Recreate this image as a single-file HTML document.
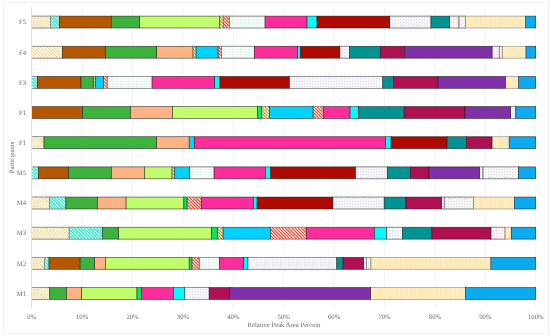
<!DOCTYPE html>
<html><head><meta charset="utf-8"><title>Relative Peak Area Percent</title>
<style>
html,body{margin:0;padding:0;background:#fff;}
body{width:550px;height:336px;overflow:hidden;font-family:"Liberation Serif","DejaVu Serif",serif;}
svg{display:block;}
text{text-rendering:geometricPrecision;font-family:"Liberation Serif","DejaVu Serif",serif;font-size:6.7px;fill:#6a6a6a;}
</style></head><body>
<svg width="550" height="336" viewBox="0 0 550 336">
<defs>
<pattern id="pYS" width="2.5" height="4" patternUnits="userSpaceOnUse"><rect width="2.5" height="4" fill="#FFEEC4"/><rect width="0.8" height="4" fill="#FFE3A8"/></pattern>
</defs>
<rect x="3.5" y="2.5" width="545" height="331" fill="#fff" stroke="#F0F0F0" stroke-width="1"/>

<line x1="31.70" y1="7" x2="31.70" y2="308" stroke="#F3F3F3" stroke-width="1"/>
<line x1="82.11" y1="7" x2="82.11" y2="308" stroke="#F3F3F3" stroke-width="1"/>
<line x1="132.52" y1="7" x2="132.52" y2="308" stroke="#F3F3F3" stroke-width="1"/>
<line x1="182.93" y1="7" x2="182.93" y2="308" stroke="#F3F3F3" stroke-width="1"/>
<line x1="233.34" y1="7" x2="233.34" y2="308" stroke="#F3F3F3" stroke-width="1"/>
<line x1="283.75" y1="7" x2="283.75" y2="308" stroke="#F3F3F3" stroke-width="1"/>
<line x1="334.16" y1="7" x2="334.16" y2="308" stroke="#F3F3F3" stroke-width="1"/>
<line x1="384.57" y1="7" x2="384.57" y2="308" stroke="#F3F3F3" stroke-width="1"/>
<line x1="434.98" y1="7" x2="434.98" y2="308" stroke="#F3F3F3" stroke-width="1"/>
<line x1="485.39" y1="7" x2="485.39" y2="308" stroke="#F3F3F3" stroke-width="1"/>
<line x1="535.80" y1="7" x2="535.80" y2="308" stroke="#F3F3F3" stroke-width="1"/>
<g stroke="#777" stroke-opacity="0.75" stroke-width="0.7">
<rect x="31.4" y="16.10" width="19.3" height="11.9" fill="#fff"/>
<svg x="31.4" y="16.10" width="19.3" height="11.9"><path d="M-13.92 0l11.9 11.9M-10.72 0l11.9 11.9M-7.52 0l11.9 11.9M-4.32 0l11.9 11.9M-1.12 0l11.9 11.9M2.08 0l11.9 11.9M5.28 0l11.9 11.9M8.48 0l11.9 11.9M11.68 0l11.9 11.9M14.88 0l11.9 11.9M18.08 0l11.9 11.9" stroke="#FFC850" stroke-width="0.95" stroke-opacity="1" fill="none"/></svg>
<rect x="31.4" y="16.10" width="19.3" height="11.9" fill="none"/>
<rect x="50.7" y="16.10" width="8.7" height="11.9" fill="#fff"/>
<svg x="50.7" y="16.10" width="8.7" height="11.9"><path d="M-14.01 0l11.9 11.9M-10.81 0l11.9 11.9M-7.61 0l11.9 11.9M-4.41 0l11.9 11.9M-1.21 0l11.9 11.9M1.99 0l11.9 11.9M5.19 0l11.9 11.9M8.39 0l11.9 11.9" stroke="#10EEC8" stroke-width="1.15" stroke-opacity="1" fill="none"/></svg>
<rect x="50.7" y="16.10" width="8.7" height="11.9" fill="none"/>
<rect x="219.4" y="16.10" width="4.0" height="11.9" fill="#fff"/>
<svg x="219.4" y="16.10" width="4.0" height="11.9"><path d="M-13.52 0l11.9 11.9M-10.32 0l11.9 11.9M-7.12 0l11.9 11.9M-3.92 0l11.9 11.9M-0.72 0l11.9 11.9M2.48 0l11.9 11.9" stroke="#A89814" stroke-width="1.1" stroke-opacity="1" fill="none"/></svg>
<rect x="219.4" y="16.10" width="4.0" height="11.9" fill="none"/>
<rect x="223.4" y="16.10" width="6.2" height="11.9" fill="#fff"/>
<svg x="223.4" y="16.10" width="6.2" height="11.9"><path d="M-13.92 0l11.9 11.9M-10.72 0l11.9 11.9M-7.52 0l11.9 11.9M-4.32 0l11.9 11.9M-1.12 0l11.9 11.9M2.08 0l11.9 11.9M5.28 0l11.9 11.9" stroke="#FF3010" stroke-width="1.1" stroke-opacity="1" fill="none"/></svg>
<rect x="223.4" y="16.10" width="6.2" height="11.9" fill="none"/>
<rect x="229.6" y="16.10" width="35.5" height="11.9" fill="#fff"/>
<svg x="229.6" y="16.10" width="35.5" height="11.9" viewBox="229.6 16.10 35.5 11.9"><path d="M224.00 16.00H266.1M225.60 17.60H266.1M224.00 19.20H266.1M225.60 20.80H266.1M224.00 22.40H266.1M225.60 24.00H266.1M224.00 25.60H266.1M225.60 27.20H266.1" stroke="#96E6C2" stroke-width="0.85" stroke-dasharray="0.85 2.35" stroke-opacity="1" fill="none"/></svg>
<rect x="229.6" y="16.10" width="35.5" height="11.9" fill="none"/>
<rect x="389.7" y="16.10" width="41.3" height="11.9" fill="#fff"/>
<svg x="389.7" y="16.10" width="41.3" height="11.9" viewBox="389.7 16.10 41.3 11.9"><path d="M384.00 16.00H432.0M385.60 17.60H432.0M384.00 19.20H432.0M385.60 20.80H432.0M384.00 22.40H432.0M385.60 24.00H432.0M384.00 25.60H432.0M385.60 27.20H432.0" stroke="#ACACEC" stroke-width="0.85" stroke-dasharray="0.85 2.35" stroke-opacity="1" fill="none"/></svg>
<rect x="389.7" y="16.10" width="41.3" height="11.9" fill="none"/>
<rect x="449.6" y="16.10" width="9.4" height="11.9" fill="#fff"/>
<svg x="449.6" y="16.10" width="9.4" height="11.9" viewBox="449.6 16.10 9.4 11.9"><path d="M444.80 16.00H460.0M446.40 17.60H460.0M444.80 19.20H460.0M446.40 20.80H460.0M444.80 22.40H460.0M446.40 24.00H460.0M444.80 25.60H460.0M446.40 27.20H460.0" stroke="#F296A8" stroke-width="0.85" stroke-dasharray="0.85 2.35" stroke-opacity="1" fill="none"/></svg>
<rect x="449.6" y="16.10" width="9.4" height="11.9" fill="none"/>
<rect x="459.0" y="16.10" width="6.5" height="11.9" fill="#fff"/>
<svg x="459.0" y="16.10" width="6.5" height="11.9" viewBox="459.0 16.10 6.5 11.9"><path d="M454.40 16.00H466.5M456.00 17.60H466.5M454.40 19.20H466.5M456.00 20.80H466.5M454.40 22.40H466.5M456.00 24.00H466.5M454.40 25.60H466.5M456.00 27.20H466.5" stroke="#ABABAB" stroke-width="0.85" stroke-dasharray="0.85 2.35" stroke-opacity="1" fill="none"/></svg>
<rect x="459.0" y="16.10" width="6.5" height="11.9" fill="none"/>
<rect x="465.5" y="16.10" width="60.0" height="11.9" fill="url(#pYS)"/>
</g>
<g stroke="#181818" stroke-opacity="0.85" stroke-width="0.6">
<rect x="59.4" y="16.10" width="51.9" height="11.9" fill="#B45700"/>
<rect x="111.3" y="16.10" width="28.4" height="11.9" fill="#3DB23D"/>
<rect x="139.7" y="16.10" width="79.7" height="11.9" fill="#C0FC6B"/>
<rect x="265.1" y="16.10" width="41.9" height="11.9" fill="#FF2D9B"/>
<rect x="307.0" y="16.10" width="10.0" height="11.9" fill="#00FCFF"/>
<rect x="317.0" y="16.10" width="72.7" height="11.9" fill="#B00A00"/>
<rect x="431.0" y="16.10" width="18.6" height="11.9" fill="#009393"/>
<rect x="525.5" y="16.10" width="10.2" height="11.9" fill="#0AABF0"/>
</g>
<rect x="29" y="15.10" width="2.9" height="13.9" fill="#fff"/>
<text x="26" y="24.35" text-anchor="end">F5</text>
<g stroke="#777" stroke-opacity="0.75" stroke-width="0.7">
<rect x="31.4" y="46.26" width="31.1" height="11.9" fill="#fff"/>
<svg x="31.4" y="46.26" width="31.1" height="11.9"><path d="M-13.92 0l11.9 11.9M-10.72 0l11.9 11.9M-7.52 0l11.9 11.9M-4.32 0l11.9 11.9M-1.12 0l11.9 11.9M2.08 0l11.9 11.9M5.28 0l11.9 11.9M8.48 0l11.9 11.9M11.68 0l11.9 11.9M14.88 0l11.9 11.9M18.08 0l11.9 11.9M21.28 0l11.9 11.9M24.48 0l11.9 11.9M27.68 0l11.9 11.9M30.88 0l11.9 11.9" stroke="#FFC850" stroke-width="0.95" stroke-opacity="1" fill="none"/></svg>
<rect x="31.4" y="46.26" width="31.1" height="11.9" fill="none"/>
<rect x="192.9" y="46.26" width="3.2" height="11.9" fill="#fff"/>
<svg x="192.9" y="46.26" width="3.2" height="11.9"><path d="M-12.07 0l11.9 11.9M-8.87 0l11.9 11.9M-5.67 0l11.9 11.9M-2.47 0l11.9 11.9M0.73 0l11.9 11.9" stroke="#A89814" stroke-width="1.1" stroke-opacity="1" fill="none"/></svg>
<rect x="192.9" y="46.26" width="3.2" height="11.9" fill="none"/>
<rect x="218.0" y="46.26" width="3.5" height="11.9" fill="#fff"/>
<svg x="218.0" y="46.26" width="3.5" height="11.9"><path d="M-12.90 0l11.9 11.9M-9.70 0l11.9 11.9M-6.50 0l11.9 11.9M-3.30 0l11.9 11.9M-0.10 0l11.9 11.9M3.10 0l11.9 11.9" stroke="#FF3010" stroke-width="1.1" stroke-opacity="1" fill="none"/></svg>
<rect x="218.0" y="46.26" width="3.5" height="11.9" fill="none"/>
<rect x="221.5" y="46.26" width="32.8" height="11.9" fill="#fff"/>
<svg x="221.5" y="46.26" width="32.8" height="11.9" viewBox="221.5 46.26 32.8 11.9"><path d="M219.20 46.40H255.3M217.60 48.00H255.3M219.20 49.60H255.3M217.60 51.20H255.3M219.20 52.80H255.3M217.60 54.40H255.3M219.20 56.00H255.3M217.60 57.60H255.3" stroke="#96E6C2" stroke-width="0.85" stroke-dasharray="0.85 2.35" stroke-opacity="1" fill="none"/></svg>
<rect x="221.5" y="46.26" width="32.8" height="11.9" fill="none"/>
<rect x="339.8" y="46.26" width="9.7" height="11.9" fill="#fff"/>
<svg x="339.8" y="46.26" width="9.7" height="11.9" viewBox="339.8 46.26 9.7 11.9"><path d="M337.60 46.40H350.5M336.00 48.00H350.5M337.60 49.60H350.5M336.00 51.20H350.5M337.60 52.80H350.5M336.00 54.40H350.5M337.60 56.00H350.5M336.00 57.60H350.5" stroke="#ACACEC" stroke-width="0.85" stroke-dasharray="0.85 2.35" stroke-opacity="1" fill="none"/></svg>
<rect x="339.8" y="46.26" width="9.7" height="11.9" fill="none"/>
<rect x="492.0" y="46.26" width="7.3" height="11.9" fill="#fff"/>
<svg x="492.0" y="46.26" width="7.3" height="11.9" viewBox="492.0 46.26 7.3 11.9"><path d="M488.00 46.40H500.3M486.40 48.00H500.3M488.00 49.60H500.3M486.40 51.20H500.3M488.00 52.80H500.3M486.40 54.40H500.3M488.00 56.00H500.3M486.40 57.60H500.3" stroke="#F296A8" stroke-width="0.85" stroke-dasharray="0.85 2.35" stroke-opacity="1" fill="none"/></svg>
<rect x="492.0" y="46.26" width="7.3" height="11.9" fill="none"/>
<rect x="499.3" y="46.26" width="3.0" height="11.9" fill="#fff"/>
<svg x="499.3" y="46.26" width="3.0" height="11.9" viewBox="499.3 46.26 3.0 11.9"><path d="M497.60 46.40H503.3M496.00 48.00H503.3M497.60 49.60H503.3M496.00 51.20H503.3M497.60 52.80H503.3M496.00 54.40H503.3M497.60 56.00H503.3M496.00 57.60H503.3" stroke="#ABABAB" stroke-width="0.85" stroke-dasharray="0.85 2.35" stroke-opacity="1" fill="none"/></svg>
<rect x="499.3" y="46.26" width="3.0" height="11.9" fill="none"/>
<rect x="502.3" y="46.26" width="23.7" height="11.9" fill="url(#pYS)"/>
</g>
<g stroke="#181818" stroke-opacity="0.85" stroke-width="0.6">
<rect x="62.5" y="46.26" width="43.2" height="11.9" fill="#B45700"/>
<rect x="105.7" y="46.26" width="51.0" height="11.9" fill="#3DB23D"/>
<rect x="156.7" y="46.26" width="36.2" height="11.9" fill="#FDB384"/>
<rect x="196.1" y="46.26" width="21.9" height="11.9" fill="#00D2FF"/>
<rect x="254.3" y="46.26" width="43.3" height="11.9" fill="#FF2D9B"/>
<rect x="297.6" y="46.26" width="3.1" height="11.9" fill="#00FCFF"/>
<rect x="300.7" y="46.26" width="39.1" height="11.9" fill="#B00A00"/>
<rect x="349.5" y="46.26" width="30.8" height="11.9" fill="#009393"/>
<rect x="380.3" y="46.26" width="24.2" height="11.9" fill="#B01052"/>
<rect x="404.5" y="46.26" width="87.5" height="11.9" fill="#8030A8"/>
<rect x="526.0" y="46.26" width="9.7" height="11.9" fill="#0AABF0"/>
</g>
<rect x="29" y="45.26" width="2.9" height="13.9" fill="#fff"/>
<text x="26" y="54.51" text-anchor="end">F4</text>
<g stroke="#777" stroke-opacity="0.75" stroke-width="0.7">
<rect x="31.4" y="76.42" width="6.0" height="11.9" fill="#fff"/>
<svg x="31.4" y="76.42" width="6.0" height="11.9"><path d="M-13.92 0l11.9 11.9M-10.72 0l11.9 11.9M-7.52 0l11.9 11.9M-4.32 0l11.9 11.9M-1.12 0l11.9 11.9M2.08 0l11.9 11.9M5.28 0l11.9 11.9" stroke="#10EEC8" stroke-width="1.15" stroke-opacity="1" fill="none"/></svg>
<rect x="31.4" y="76.42" width="6.0" height="11.9" fill="none"/>
<rect x="93.2" y="76.42" width="2.1" height="11.9" fill="#fff"/>
<svg x="93.2" y="76.42" width="2.1" height="11.9"><path d="M-13.86 0l11.9 11.9M-10.66 0l11.9 11.9M-7.46 0l11.9 11.9M-4.26 0l11.9 11.9M-1.06 0l11.9 11.9" stroke="#A89814" stroke-width="1.1" stroke-opacity="1" fill="none"/></svg>
<rect x="93.2" y="76.42" width="2.1" height="11.9" fill="none"/>
<rect x="103.3" y="76.42" width="4.3" height="11.9" fill="#fff"/>
<svg x="103.3" y="76.42" width="4.3" height="11.9"><path d="M-13.99 0l11.9 11.9M-10.79 0l11.9 11.9M-7.59 0l11.9 11.9M-4.39 0l11.9 11.9M-1.19 0l11.9 11.9M2.01 0l11.9 11.9" stroke="#FF3010" stroke-width="1.1" stroke-opacity="1" fill="none"/></svg>
<rect x="103.3" y="76.42" width="4.3" height="11.9" fill="none"/>
<rect x="107.6" y="76.42" width="44.5" height="11.9" fill="#fff"/>
<svg x="107.6" y="76.42" width="44.5" height="11.9" viewBox="107.6 76.42 44.5 11.9"><path d="M102.40 76.80H153.1M104.00 78.40H153.1M102.40 80.00H153.1M104.00 81.60H153.1M102.40 83.20H153.1M104.00 84.80H153.1M102.40 86.40H153.1M104.00 88.00H153.1" stroke="#96E6C2" stroke-width="0.85" stroke-dasharray="0.85 2.35" stroke-opacity="1" fill="none"/></svg>
<rect x="107.6" y="76.42" width="44.5" height="11.9" fill="none"/>
<rect x="289.2" y="76.42" width="93.6" height="11.9" fill="#fff"/>
<svg x="289.2" y="76.42" width="93.6" height="11.9" viewBox="289.2 76.42 93.6 11.9"><path d="M284.80 76.80H383.8M286.40 78.40H383.8M284.80 80.00H383.8M286.40 81.60H383.8M284.80 83.20H383.8M286.40 84.80H383.8M284.80 86.40H383.8M286.40 88.00H383.8" stroke="#ACACEC" stroke-width="0.85" stroke-dasharray="0.85 2.35" stroke-opacity="1" fill="none"/></svg>
<rect x="289.2" y="76.42" width="93.6" height="11.9" fill="none"/>
<rect x="505.4" y="76.42" width="13.2" height="11.9" fill="url(#pYS)"/>
</g>
<g stroke="#181818" stroke-opacity="0.85" stroke-width="0.6">
<rect x="37.4" y="76.42" width="43.6" height="11.9" fill="#B45700"/>
<rect x="81.0" y="76.42" width="12.2" height="11.9" fill="#3DB23D"/>
<rect x="95.3" y="76.42" width="8.0" height="11.9" fill="#00D2FF"/>
<rect x="152.1" y="76.42" width="62.6" height="11.9" fill="#FF2D9B"/>
<rect x="214.7" y="76.42" width="5.3" height="11.9" fill="#00FCFF"/>
<rect x="220.0" y="76.42" width="69.2" height="11.9" fill="#B00A00"/>
<rect x="382.8" y="76.42" width="10.7" height="11.9" fill="#009393"/>
<rect x="393.5" y="76.42" width="44.6" height="11.9" fill="#B01052"/>
<rect x="438.1" y="76.42" width="67.3" height="11.9" fill="#8030A8"/>
<rect x="518.6" y="76.42" width="17.1" height="11.9" fill="#0AABF0"/>
</g>
<rect x="29" y="75.42" width="2.9" height="13.9" fill="#fff"/>
<text x="26" y="84.67" text-anchor="end">F3</text>
<g stroke="#777" stroke-opacity="0.75" stroke-width="0.7">
<rect x="261.4" y="106.58" width="8.0" height="11.9" fill="#fff"/>
<svg x="261.4" y="106.58" width="8.0" height="11.9"><path d="M-12.92 0l11.9 11.9M-9.72 0l11.9 11.9M-6.52 0l11.9 11.9M-3.32 0l11.9 11.9M-0.12 0l11.9 11.9M3.08 0l11.9 11.9M6.28 0l11.9 11.9" stroke="#A89814" stroke-width="1.1" stroke-opacity="1" fill="none"/></svg>
<rect x="261.4" y="106.58" width="8.0" height="11.9" fill="none"/>
<rect x="313.0" y="106.58" width="10.5" height="11.9" fill="#fff"/>
<svg x="313.0" y="106.58" width="10.5" height="11.9"><path d="M-12.00 0l11.9 11.9M-8.80 0l11.9 11.9M-5.60 0l11.9 11.9M-2.40 0l11.9 11.9M0.80 0l11.9 11.9M4.00 0l11.9 11.9M7.20 0l11.9 11.9M10.40 0l11.9 11.9" stroke="#FF3010" stroke-width="1.1" stroke-opacity="1" fill="none"/></svg>
<rect x="313.0" y="106.58" width="10.5" height="11.9" fill="none"/>
<rect x="510.6" y="106.58" width="5.2" height="11.9" fill="#fff"/>
<svg x="510.6" y="106.58" width="5.2" height="11.9" viewBox="510.6 106.58 5.2 11.9"><path d="M507.20 107.20H516.8M505.60 108.80H516.8M507.20 110.40H516.8M505.60 112.00H516.8M507.20 113.60H516.8M505.60 115.20H516.8M507.20 116.80H516.8M505.60 118.40H516.8" stroke="#ABABAB" stroke-width="0.85" stroke-dasharray="0.85 2.35" stroke-opacity="1" fill="none"/></svg>
<rect x="510.6" y="106.58" width="5.2" height="11.9" fill="none"/>
</g>
<g stroke="#181818" stroke-opacity="0.85" stroke-width="0.6">
<rect x="31.4" y="106.58" width="51.1" height="11.9" fill="#B45700"/>
<rect x="82.5" y="106.58" width="48.0" height="11.9" fill="#3DB23D"/>
<rect x="130.5" y="106.58" width="42.0" height="11.9" fill="#FDB384"/>
<rect x="172.5" y="106.58" width="84.9" height="11.9" fill="#C0FC6B"/>
<rect x="257.4" y="106.58" width="4.0" height="11.9" fill="#08E664"/>
<rect x="269.4" y="106.58" width="43.6" height="11.9" fill="#00D2FF"/>
<rect x="323.5" y="106.58" width="26.6" height="11.9" fill="#FF2D9B"/>
<rect x="350.1" y="106.58" width="8.3" height="11.9" fill="#00FCFF"/>
<rect x="358.4" y="106.58" width="45.8" height="11.9" fill="#009393"/>
<rect x="404.2" y="106.58" width="60.8" height="11.9" fill="#B01052"/>
<rect x="465.0" y="106.58" width="45.6" height="11.9" fill="#8030A8"/>
<rect x="515.8" y="106.58" width="19.9" height="11.9" fill="#0AABF0"/>
</g>
<rect x="29" y="105.58" width="2.9" height="13.9" fill="#fff"/>
<text x="26" y="114.83" text-anchor="end">F1</text>
<g stroke="#777" stroke-opacity="0.75" stroke-width="0.7">
<rect x="31.4" y="136.74" width="12.6" height="11.9" fill="#fff"/>
<svg x="31.4" y="136.74" width="12.6" height="11.9"><path d="M-13.92 0l11.9 11.9M-10.72 0l11.9 11.9M-7.52 0l11.9 11.9M-4.32 0l11.9 11.9M-1.12 0l11.9 11.9M2.08 0l11.9 11.9M5.28 0l11.9 11.9M8.48 0l11.9 11.9M11.68 0l11.9 11.9" stroke="#FFC850" stroke-width="0.95" stroke-opacity="1" fill="none"/></svg>
<rect x="31.4" y="136.74" width="12.6" height="11.9" fill="none"/>
<rect x="492.0" y="136.74" width="17.2" height="11.9" fill="url(#pYS)"/>
</g>
<g stroke="#181818" stroke-opacity="0.85" stroke-width="0.6">
<rect x="44.0" y="136.74" width="112.7" height="11.9" fill="#3DB23D"/>
<rect x="156.7" y="136.74" width="32.5" height="11.9" fill="#FDB384"/>
<rect x="189.2" y="136.74" width="5.1" height="11.9" fill="#00D2FF"/>
<rect x="194.3" y="136.74" width="191.3" height="11.9" fill="#FF2D9B"/>
<rect x="385.6" y="136.74" width="5.5" height="11.9" fill="#00FCFF"/>
<rect x="391.1" y="136.74" width="56.0" height="11.9" fill="#B00A00"/>
<rect x="447.1" y="136.74" width="19.3" height="11.9" fill="#009393"/>
<rect x="466.4" y="136.74" width="25.6" height="11.9" fill="#B01052"/>
<rect x="509.2" y="136.74" width="26.5" height="11.9" fill="#0AABF0"/>
</g>
<rect x="29" y="135.74" width="2.9" height="13.9" fill="#fff"/>
<text x="26" y="144.99" text-anchor="end">F1</text>
<g stroke="#777" stroke-opacity="0.75" stroke-width="0.7">
<rect x="31.4" y="166.90" width="7.0" height="11.9" fill="#fff"/>
<svg x="31.4" y="166.90" width="7.0" height="11.9"><path d="M-13.92 0l11.9 11.9M-10.72 0l11.9 11.9M-7.52 0l11.9 11.9M-4.32 0l11.9 11.9M-1.12 0l11.9 11.9M2.08 0l11.9 11.9M5.28 0l11.9 11.9" stroke="#10EEC8" stroke-width="1.15" stroke-opacity="1" fill="none"/></svg>
<rect x="31.4" y="166.90" width="7.0" height="11.9" fill="none"/>
<rect x="171.9" y="166.90" width="2.8" height="11.9" fill="#fff"/>
<svg x="171.9" y="166.90" width="2.8" height="11.9"><path d="M-12.37 0l11.9 11.9M-9.17 0l11.9 11.9M-5.97 0l11.9 11.9M-2.77 0l11.9 11.9M0.43 0l11.9 11.9" stroke="#A89814" stroke-width="1.1" stroke-opacity="1" fill="none"/></svg>
<rect x="171.9" y="166.90" width="2.8" height="11.9" fill="none"/>
<rect x="189.5" y="166.90" width="24.6" height="11.9" fill="#fff"/>
<svg x="189.5" y="166.90" width="24.6" height="11.9" viewBox="189.5 166.90 24.6 11.9"><path d="M187.20 168.00H215.1M185.60 169.60H215.1M187.20 171.20H215.1M185.60 172.80H215.1M187.20 174.40H215.1M185.60 176.00H215.1M187.20 177.60H215.1" stroke="#96E6C2" stroke-width="0.85" stroke-dasharray="0.85 2.35" stroke-opacity="1" fill="none"/></svg>
<rect x="189.5" y="166.90" width="24.6" height="11.9" fill="none"/>
<rect x="355.3" y="166.90" width="32.0" height="11.9" fill="#fff"/>
<svg x="355.3" y="166.90" width="32.0" height="11.9" viewBox="355.3 166.90 32.0 11.9"><path d="M353.60 168.00H388.3M352.00 169.60H388.3M353.60 171.20H388.3M352.00 172.80H388.3M353.60 174.40H388.3M352.00 176.00H388.3M353.60 177.60H388.3" stroke="#ACACEC" stroke-width="0.85" stroke-dasharray="0.85 2.35" stroke-opacity="1" fill="none"/></svg>
<rect x="355.3" y="166.90" width="32.0" height="11.9" fill="none"/>
<rect x="479.5" y="166.90" width="3.5" height="11.9" fill="#fff"/>
<svg x="479.5" y="166.90" width="3.5" height="11.9" viewBox="479.5 166.90 3.5 11.9"><path d="M475.20 168.00H484.0M473.60 169.60H484.0M475.20 171.20H484.0M473.60 172.80H484.0M475.20 174.40H484.0M473.60 176.00H484.0M475.20 177.60H484.0" stroke="#F296A8" stroke-width="0.85" stroke-dasharray="0.85 2.35" stroke-opacity="1" fill="none"/></svg>
<rect x="479.5" y="166.90" width="3.5" height="11.9" fill="none"/>
<rect x="483.0" y="166.90" width="35.6" height="11.9" fill="#fff"/>
<svg x="483.0" y="166.90" width="35.6" height="11.9" viewBox="483.0 166.90 35.6 11.9"><path d="M478.40 168.00H519.6M476.80 169.60H519.6M478.40 171.20H519.6M476.80 172.80H519.6M478.40 174.40H519.6M476.80 176.00H519.6M478.40 177.60H519.6" stroke="#ABABAB" stroke-width="0.85" stroke-dasharray="0.85 2.35" stroke-opacity="1" fill="none"/></svg>
<rect x="483.0" y="166.90" width="35.6" height="11.9" fill="none"/>
</g>
<g stroke="#181818" stroke-opacity="0.85" stroke-width="0.6">
<rect x="38.4" y="166.90" width="30.2" height="11.9" fill="#B45700"/>
<rect x="68.6" y="166.90" width="42.7" height="11.9" fill="#3DB23D"/>
<rect x="111.3" y="166.90" width="33.1" height="11.9" fill="#FDB384"/>
<rect x="144.4" y="166.90" width="27.5" height="11.9" fill="#C0FC6B"/>
<rect x="174.7" y="166.90" width="14.8" height="11.9" fill="#00D2FF"/>
<rect x="214.1" y="166.90" width="51.3" height="11.9" fill="#FF2D9B"/>
<rect x="265.4" y="166.90" width="5.3" height="11.9" fill="#00FCFF"/>
<rect x="270.7" y="166.90" width="84.6" height="11.9" fill="#B00A00"/>
<rect x="387.3" y="166.90" width="23.1" height="11.9" fill="#009393"/>
<rect x="410.4" y="166.90" width="18.7" height="11.9" fill="#B01052"/>
<rect x="429.1" y="166.90" width="50.4" height="11.9" fill="#8030A8"/>
<rect x="518.6" y="166.90" width="17.1" height="11.9" fill="#0AABF0"/>
</g>
<rect x="29" y="165.90" width="2.9" height="13.9" fill="#fff"/>
<text x="26" y="175.15" text-anchor="end">M5</text>
<g stroke="#777" stroke-opacity="0.75" stroke-width="0.7">
<rect x="31.4" y="197.06" width="18.1" height="11.9" fill="#fff"/>
<svg x="31.4" y="197.06" width="18.1" height="11.9"><path d="M-13.92 0l11.9 11.9M-10.72 0l11.9 11.9M-7.52 0l11.9 11.9M-4.32 0l11.9 11.9M-1.12 0l11.9 11.9M2.08 0l11.9 11.9M5.28 0l11.9 11.9M8.48 0l11.9 11.9M11.68 0l11.9 11.9M14.88 0l11.9 11.9M18.08 0l11.9 11.9" stroke="#FFC850" stroke-width="0.95" stroke-opacity="1" fill="none"/></svg>
<rect x="31.4" y="197.06" width="18.1" height="11.9" fill="none"/>
<rect x="49.5" y="197.06" width="16.4" height="11.9" fill="#fff"/>
<svg x="49.5" y="197.06" width="16.4" height="11.9"><path d="M-14.85 0l11.9 11.9M-11.65 0l11.9 11.9M-8.45 0l11.9 11.9M-5.25 0l11.9 11.9M-2.05 0l11.9 11.9M1.15 0l11.9 11.9M4.35 0l11.9 11.9M7.55 0l11.9 11.9M10.75 0l11.9 11.9M13.95 0l11.9 11.9" stroke="#10EEC8" stroke-width="1.15" stroke-opacity="1" fill="none"/></svg>
<rect x="49.5" y="197.06" width="16.4" height="11.9" fill="none"/>
<rect x="187.0" y="197.06" width="14.4" height="11.9" fill="#fff"/>
<svg x="187.0" y="197.06" width="14.4" height="11.9"><path d="M-13.80 0l11.9 11.9M-10.60 0l11.9 11.9M-7.40 0l11.9 11.9M-4.20 0l11.9 11.9M-1.00 0l11.9 11.9M2.20 0l11.9 11.9M5.40 0l11.9 11.9M8.60 0l11.9 11.9M11.80 0l11.9 11.9" stroke="#FF3010" stroke-width="1.1" stroke-opacity="1" fill="none"/></svg>
<rect x="187.0" y="197.06" width="14.4" height="11.9" fill="none"/>
<rect x="332.8" y="197.06" width="51.4" height="11.9" fill="#fff"/>
<svg x="332.8" y="197.06" width="51.4" height="11.9" viewBox="332.8 197.06 51.4 11.9"><path d="M331.20 196.80H385.2M329.60 198.40H385.2M331.20 200.00H385.2M329.60 201.60H385.2M331.20 203.20H385.2M329.60 204.80H385.2M331.20 206.40H385.2M329.60 208.00H385.2" stroke="#ACACEC" stroke-width="0.85" stroke-dasharray="0.85 2.35" stroke-opacity="1" fill="none"/></svg>
<rect x="332.8" y="197.06" width="51.4" height="11.9" fill="none"/>
<rect x="441.5" y="197.06" width="2.8" height="11.9" fill="#fff"/>
<svg x="441.5" y="197.06" width="2.8" height="11.9" viewBox="441.5 197.06 2.8 11.9"><path d="M436.80 196.80H445.3M435.20 198.40H445.3M436.80 200.00H445.3M435.20 201.60H445.3M436.80 203.20H445.3M435.20 204.80H445.3M436.80 206.40H445.3M435.20 208.00H445.3" stroke="#F296A8" stroke-width="0.85" stroke-dasharray="0.85 2.35" stroke-opacity="1" fill="none"/></svg>
<rect x="441.5" y="197.06" width="2.8" height="11.9" fill="none"/>
<rect x="444.3" y="197.06" width="29.4" height="11.9" fill="#fff"/>
<svg x="444.3" y="197.06" width="29.4" height="11.9" viewBox="444.3 197.06 29.4 11.9"><path d="M440.00 196.80H474.7M438.40 198.40H474.7M440.00 200.00H474.7M438.40 201.60H474.7M440.00 203.20H474.7M438.40 204.80H474.7M440.00 206.40H474.7M438.40 208.00H474.7" stroke="#ABABAB" stroke-width="0.85" stroke-dasharray="0.85 2.35" stroke-opacity="1" fill="none"/></svg>
<rect x="444.3" y="197.06" width="29.4" height="11.9" fill="none"/>
<rect x="473.7" y="197.06" width="40.7" height="11.9" fill="url(#pYS)"/>
</g>
<g stroke="#181818" stroke-opacity="0.85" stroke-width="0.6">
<rect x="65.9" y="197.06" width="31.5" height="11.9" fill="#3DB23D"/>
<rect x="97.4" y="197.06" width="28.7" height="11.9" fill="#FDB384"/>
<rect x="126.1" y="197.06" width="57.8" height="11.9" fill="#C0FC6B"/>
<rect x="183.9" y="197.06" width="3.1" height="11.9" fill="#08E664"/>
<rect x="201.4" y="197.06" width="52.0" height="11.9" fill="#FF2D9B"/>
<rect x="253.4" y="197.06" width="3.7" height="11.9" fill="#00FCFF"/>
<rect x="257.1" y="197.06" width="75.7" height="11.9" fill="#B00A00"/>
<rect x="384.2" y="197.06" width="21.8" height="11.9" fill="#009393"/>
<rect x="406.0" y="197.06" width="35.5" height="11.9" fill="#B01052"/>
<rect x="514.4" y="197.06" width="21.3" height="11.9" fill="#0AABF0"/>
</g>
<rect x="29" y="196.06" width="2.9" height="13.9" fill="#fff"/>
<text x="26" y="205.31" text-anchor="end">M4</text>
<g stroke="#777" stroke-opacity="0.75" stroke-width="0.7">
<rect x="31.4" y="227.22" width="37.8" height="11.9" fill="#fff"/>
<svg x="31.4" y="227.22" width="37.8" height="11.9"><path d="M-13.92 0l11.9 11.9M-10.72 0l11.9 11.9M-7.52 0l11.9 11.9M-4.32 0l11.9 11.9M-1.12 0l11.9 11.9M2.08 0l11.9 11.9M5.28 0l11.9 11.9M8.48 0l11.9 11.9M11.68 0l11.9 11.9M14.88 0l11.9 11.9M18.08 0l11.9 11.9M21.28 0l11.9 11.9M24.48 0l11.9 11.9M27.68 0l11.9 11.9M30.88 0l11.9 11.9M34.08 0l11.9 11.9M37.28 0l11.9 11.9" stroke="#FFC850" stroke-width="0.95" stroke-opacity="1" fill="none"/></svg>
<rect x="31.4" y="227.22" width="37.8" height="11.9" fill="none"/>
<rect x="69.2" y="227.22" width="33.5" height="11.9" fill="#fff"/>
<svg x="69.2" y="227.22" width="33.5" height="11.9"><path d="M-14.66 0l11.9 11.9M-11.46 0l11.9 11.9M-8.26 0l11.9 11.9M-5.06 0l11.9 11.9M-1.86 0l11.9 11.9M1.34 0l11.9 11.9M4.54 0l11.9 11.9M7.74 0l11.9 11.9M10.94 0l11.9 11.9M14.14 0l11.9 11.9M17.34 0l11.9 11.9M20.54 0l11.9 11.9M23.74 0l11.9 11.9M26.94 0l11.9 11.9M30.14 0l11.9 11.9M33.34 0l11.9 11.9" stroke="#10EEC8" stroke-width="1.15" stroke-opacity="1" fill="none"/></svg>
<rect x="69.2" y="227.22" width="33.5" height="11.9" fill="none"/>
<rect x="217.2" y="227.22" width="5.9" height="11.9" fill="#fff"/>
<svg x="217.2" y="227.22" width="5.9" height="11.9"><path d="M-13.46 0l11.9 11.9M-10.26 0l11.9 11.9M-7.06 0l11.9 11.9M-3.86 0l11.9 11.9M-0.66 0l11.9 11.9M2.54 0l11.9 11.9M5.74 0l11.9 11.9" stroke="#A89814" stroke-width="1.1" stroke-opacity="1" fill="none"/></svg>
<rect x="217.2" y="227.22" width="5.9" height="11.9" fill="none"/>
<rect x="270.4" y="227.22" width="36.1" height="11.9" fill="#fff"/>
<svg x="270.4" y="227.22" width="36.1" height="11.9"><path d="M-14.62 0l11.9 11.9M-11.42 0l11.9 11.9M-8.22 0l11.9 11.9M-5.02 0l11.9 11.9M-1.82 0l11.9 11.9M1.38 0l11.9 11.9M4.58 0l11.9 11.9M7.78 0l11.9 11.9M10.98 0l11.9 11.9M14.18 0l11.9 11.9M17.38 0l11.9 11.9M20.58 0l11.9 11.9M23.78 0l11.9 11.9M26.98 0l11.9 11.9M30.18 0l11.9 11.9M33.38 0l11.9 11.9" stroke="#FF3010" stroke-width="1.1" stroke-opacity="1" fill="none"/></svg>
<rect x="270.4" y="227.22" width="36.1" height="11.9" fill="none"/>
<rect x="386.3" y="227.22" width="16.2" height="11.9" fill="#fff"/>
<svg x="386.3" y="227.22" width="16.2" height="11.9" viewBox="386.3 227.22 16.2 11.9"><path d="M380.80 227.20H403.5M382.40 228.80H403.5M380.80 230.40H403.5M382.40 232.00H403.5M380.80 233.60H403.5M382.40 235.20H403.5M380.80 236.80H403.5M382.40 238.40H403.5" stroke="#ACACEC" stroke-width="0.85" stroke-dasharray="0.85 2.35" stroke-opacity="1" fill="none"/></svg>
<rect x="386.3" y="227.22" width="16.2" height="11.9" fill="none"/>
<rect x="490.9" y="227.22" width="14.2" height="11.9" fill="#fff"/>
<svg x="490.9" y="227.22" width="14.2" height="11.9" viewBox="490.9 227.22 14.2 11.9"><path d="M486.40 227.20H506.1M488.00 228.80H506.1M486.40 230.40H506.1M488.00 232.00H506.1M486.40 233.60H506.1M488.00 235.20H506.1M486.40 236.80H506.1M488.00 238.40H506.1" stroke="#F296A8" stroke-width="0.85" stroke-dasharray="0.85 2.35" stroke-opacity="1" fill="none"/></svg>
<rect x="490.9" y="227.22" width="14.2" height="11.9" fill="none"/>
<rect x="505.1" y="227.22" width="6.2" height="11.9" fill="url(#pYS)"/>
</g>
<g stroke="#181818" stroke-opacity="0.85" stroke-width="0.6">
<rect x="102.7" y="227.22" width="16.0" height="11.9" fill="#3DB23D"/>
<rect x="118.7" y="227.22" width="92.9" height="11.9" fill="#C0FC6B"/>
<rect x="211.6" y="227.22" width="5.6" height="11.9" fill="#08E664"/>
<rect x="223.1" y="227.22" width="47.3" height="11.9" fill="#00D2FF"/>
<rect x="306.5" y="227.22" width="68.0" height="11.9" fill="#FF2D9B"/>
<rect x="374.5" y="227.22" width="11.8" height="11.9" fill="#00FCFF"/>
<rect x="402.5" y="227.22" width="29.4" height="11.9" fill="#009393"/>
<rect x="431.9" y="227.22" width="59.0" height="11.9" fill="#B01052"/>
<rect x="511.3" y="227.22" width="24.4" height="11.9" fill="#0AABF0"/>
</g>
<rect x="29" y="226.22" width="2.9" height="13.9" fill="#fff"/>
<text x="26" y="235.47" text-anchor="end">M3</text>
<g stroke="#777" stroke-opacity="0.75" stroke-width="0.7">
<rect x="31.4" y="257.38" width="13.1" height="11.9" fill="#fff"/>
<svg x="31.4" y="257.38" width="13.1" height="11.9"><path d="M-13.92 0l11.9 11.9M-10.72 0l11.9 11.9M-7.52 0l11.9 11.9M-4.32 0l11.9 11.9M-1.12 0l11.9 11.9M2.08 0l11.9 11.9M5.28 0l11.9 11.9M8.48 0l11.9 11.9M11.68 0l11.9 11.9" stroke="#FFC850" stroke-width="0.95" stroke-opacity="1" fill="none"/></svg>
<rect x="31.4" y="257.38" width="13.1" height="11.9" fill="none"/>
<rect x="44.5" y="257.38" width="4.5" height="11.9" fill="#fff"/>
<svg x="44.5" y="257.38" width="4.5" height="11.9"><path d="M-13.55 0l11.9 11.9M-10.35 0l11.9 11.9M-7.15 0l11.9 11.9M-3.95 0l11.9 11.9M-0.75 0l11.9 11.9M2.45 0l11.9 11.9" stroke="#10EEC8" stroke-width="1.15" stroke-opacity="1" fill="none"/></svg>
<rect x="44.5" y="257.38" width="4.5" height="11.9" fill="none"/>
<rect x="191.9" y="257.38" width="7.7" height="11.9" fill="#fff"/>
<svg x="191.9" y="257.38" width="7.7" height="11.9"><path d="M-14.37 0l11.9 11.9M-11.17 0l11.9 11.9M-7.97 0l11.9 11.9M-4.77 0l11.9 11.9M-1.57 0l11.9 11.9M1.63 0l11.9 11.9M4.83 0l11.9 11.9" stroke="#FF3010" stroke-width="1.1" stroke-opacity="1" fill="none"/></svg>
<rect x="191.9" y="257.38" width="7.7" height="11.9" fill="none"/>
<rect x="199.6" y="257.38" width="19.8" height="11.9" fill="#fff"/>
<svg x="199.6" y="257.38" width="19.8" height="11.9" viewBox="199.6 257.38 19.8 11.9"><path d="M196.80 257.60H220.4M195.20 259.20H220.4M196.80 260.80H220.4M195.20 262.40H220.4M196.80 264.00H220.4M195.20 265.60H220.4M196.80 267.20H220.4M195.20 268.80H220.4" stroke="#96E6C2" stroke-width="0.85" stroke-dasharray="0.85 2.35" stroke-opacity="1" fill="none"/></svg>
<rect x="199.6" y="257.38" width="19.8" height="11.9" fill="none"/>
<rect x="247.8" y="257.38" width="89.0" height="11.9" fill="#fff"/>
<svg x="247.8" y="257.38" width="89.0" height="11.9" viewBox="247.8 257.38 89.0 11.9"><path d="M244.80 257.60H337.8M243.20 259.20H337.8M244.80 260.80H337.8M243.20 262.40H337.8M244.80 264.00H337.8M243.20 265.60H337.8M244.80 267.20H337.8M243.20 268.80H337.8" stroke="#ACACEC" stroke-width="0.85" stroke-dasharray="0.85 2.35" stroke-opacity="1" fill="none"/></svg>
<rect x="247.8" y="257.38" width="89.0" height="11.9" fill="none"/>
<rect x="363.6" y="257.38" width="2.8" height="11.9" fill="#fff"/>
<svg x="363.6" y="257.38" width="2.8" height="11.9" viewBox="363.6 257.38 2.8 11.9"><path d="M360.00 257.60H367.4M358.40 259.20H367.4M360.00 260.80H367.4M358.40 262.40H367.4M360.00 264.00H367.4M358.40 265.60H367.4M360.00 267.20H367.4M358.40 268.80H367.4" stroke="#F296A8" stroke-width="0.85" stroke-dasharray="0.85 2.35" stroke-opacity="1" fill="none"/></svg>
<rect x="363.6" y="257.38" width="2.8" height="11.9" fill="none"/>
<rect x="366.4" y="257.38" width="4.6" height="11.9" fill="#fff"/>
<svg x="366.4" y="257.38" width="4.6" height="11.9" viewBox="366.4 257.38 4.6 11.9"><path d="M363.20 257.60H372.0M361.60 259.20H372.0M363.20 260.80H372.0M361.60 262.40H372.0M363.20 264.00H372.0M361.60 265.60H372.0M363.20 267.20H372.0M361.60 268.80H372.0" stroke="#ABABAB" stroke-width="0.85" stroke-dasharray="0.85 2.35" stroke-opacity="1" fill="none"/></svg>
<rect x="366.4" y="257.38" width="4.6" height="11.9" fill="none"/>
<rect x="371.0" y="257.38" width="119.9" height="11.9" fill="url(#pYS)"/>
</g>
<g stroke="#181818" stroke-opacity="0.85" stroke-width="0.6">
<rect x="49.0" y="257.38" width="31.1" height="11.9" fill="#B45700"/>
<rect x="80.1" y="257.38" width="14.5" height="11.9" fill="#3DB23D"/>
<rect x="94.6" y="257.38" width="10.8" height="11.9" fill="#FDB384"/>
<rect x="105.4" y="257.38" width="83.8" height="11.9" fill="#C0FC6B"/>
<rect x="189.2" y="257.38" width="2.7" height="11.9" fill="#08E664"/>
<rect x="219.4" y="257.38" width="24.4" height="11.9" fill="#FF2D9B"/>
<rect x="243.8" y="257.38" width="4.0" height="11.9" fill="#00FCFF"/>
<rect x="336.8" y="257.38" width="6.2" height="11.9" fill="#009393"/>
<rect x="343.0" y="257.38" width="20.6" height="11.9" fill="#B01052"/>
<rect x="490.9" y="257.38" width="44.8" height="11.9" fill="#0AABF0"/>
</g>
<rect x="29" y="256.38" width="2.9" height="13.9" fill="#fff"/>
<text x="26" y="265.63" text-anchor="end">M2</text>
<g stroke="#777" stroke-opacity="0.75" stroke-width="0.7">
<rect x="31.4" y="287.54" width="18.4" height="11.9" fill="#fff"/>
<svg x="31.4" y="287.54" width="18.4" height="11.9"><path d="M-13.92 0l11.9 11.9M-10.72 0l11.9 11.9M-7.52 0l11.9 11.9M-4.32 0l11.9 11.9M-1.12 0l11.9 11.9M2.08 0l11.9 11.9M5.28 0l11.9 11.9M8.48 0l11.9 11.9M11.68 0l11.9 11.9M14.88 0l11.9 11.9M18.08 0l11.9 11.9" stroke="#FFC850" stroke-width="0.95" stroke-opacity="1" fill="none"/></svg>
<rect x="31.4" y="287.54" width="18.4" height="11.9" fill="none"/>
<rect x="184.6" y="287.54" width="24.6" height="11.9" fill="#fff"/>
<svg x="184.6" y="287.54" width="24.6" height="11.9" viewBox="184.6 287.54 24.6 11.9"><path d="M179.20 288.00H210.2M180.80 289.60H210.2M179.20 291.20H210.2M180.80 292.80H210.2M179.20 294.40H210.2M180.80 296.00H210.2M179.20 297.60H210.2M180.80 299.20H210.2" stroke="#ACACEC" stroke-width="0.85" stroke-dasharray="0.85 2.35" stroke-opacity="1" fill="none"/></svg>
<rect x="184.6" y="287.54" width="24.6" height="11.9" fill="none"/>
<rect x="370.7" y="287.54" width="94.7" height="11.9" fill="url(#pYS)"/>
</g>
<g stroke="#181818" stroke-opacity="0.85" stroke-width="0.6">
<rect x="49.8" y="287.54" width="16.7" height="11.9" fill="#3DB23D"/>
<rect x="66.5" y="287.54" width="15.1" height="11.9" fill="#FDB384"/>
<rect x="81.6" y="287.54" width="55.4" height="11.9" fill="#C0FC6B"/>
<rect x="137.0" y="287.54" width="4.3" height="11.9" fill="#08E664"/>
<rect x="141.3" y="287.54" width="32.1" height="11.9" fill="#FF2D9B"/>
<rect x="173.4" y="287.54" width="11.2" height="11.9" fill="#00FCFF"/>
<rect x="209.2" y="287.54" width="20.4" height="11.9" fill="#B01052"/>
<rect x="229.6" y="287.54" width="141.1" height="11.9" fill="#8030A8"/>
<rect x="465.4" y="287.54" width="70.3" height="11.9" fill="#0AABF0"/>
</g>
<rect x="29" y="286.54" width="2.9" height="13.9" fill="#fff"/>
<text x="26" y="295.79" text-anchor="end">M1</text>
<line x1="31.5" y1="7" x2="31.5" y2="308" stroke="#E0E0E0" stroke-width="1"/>
<text x="31.70" y="319" text-anchor="middle" fill="#787878">0%</text>
<text x="82.11" y="319" text-anchor="middle" fill="#787878">10%</text>
<text x="132.52" y="319" text-anchor="middle" fill="#787878">20%</text>
<text x="182.93" y="319" text-anchor="middle" fill="#787878">30%</text>
<text x="233.34" y="319" text-anchor="middle" fill="#787878">40%</text>
<text x="283.75" y="319" text-anchor="middle" fill="#787878">50%</text>
<text x="334.16" y="319" text-anchor="middle" fill="#787878">60%</text>
<text x="384.57" y="319" text-anchor="middle" fill="#787878">70%</text>
<text x="434.98" y="319" text-anchor="middle" fill="#787878">80%</text>
<text x="485.39" y="319" text-anchor="middle" fill="#787878">90%</text>
<text x="535.80" y="319" text-anchor="middle" fill="#787878">100%</text>
<text x="284" y="327.3" text-anchor="middle">Relative Peak Area Percent</text>
<text transform="translate(14.2,157.5) rotate(-90)" text-anchor="middle">Participants</text>
</svg></body></html>
